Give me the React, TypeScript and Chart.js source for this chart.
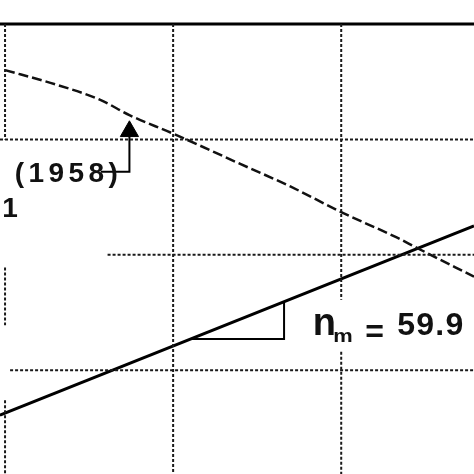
import React, { useEffect, useRef } from "react";
import { Chart, registerables } from "chart.js";

Chart.register(...registerables);

// Dashed descending curve
const curveX = [0, 0.27, 0.57, 0.74, 1.0, 1.38, 1.7, 2.0, 2.33, 2.45, 2.79];
const curveY = [2.6, 2.49, 2.34, 2.21, 2.05, 1.8, 1.59, 1.37, 1.15, 1.06, 0.81];

// Solid ascending straight line
const lineX = [-0.03, 2.79];
const lineY = [-0.39, 1.25];

// Slope triangle
const triX = [1.1, 1.66, 1.66];
const triY = [0.27, 0.27, 0.6];

// Arrow pointing to the curve
const arrowX = [0.57, 0.74, 0.74];
const arrowY = [1.72, 1.72, 2.04];
const arrowHeadX = [0.74];
const arrowHeadY = [2.07];

// Grid segments (vertical: x, from y, to y)
const vGridX = [0, 0, 0, 1, 2, 2];
const vGridFrom = [3, 0.89, -0.26, 3, 3, 0.16];
const vGridTo = [2, 0.39, -0.9, -0.9, 0.61, -0.9];
// Horizontal: y, from x, to x
const hGridY = [2, 1, 0];
const hGridFrom = [-0.03, 0.61, 0.03];
const hGridTo = [2.79, 2.79, 2.79];

// Top frame line
const frameY = 3;

// Text labels
const yearLabel = "(1958)";
const yearLabelX = 0.058;
const yearLabelY = 1.629;
const oneLabel = "1";
const oneLabelX = -0.017;
const oneLabelY = 1.327;
const slopeMain = "n";
const slopeSub = "m";
const slopeEq = "=";
const slopeValue = "59.9";
const slopeLabelX = 1.83;
const slopeLabelY = 0.303;

const X_MIN = -0.03;
const X_MAX = 2.79;
const Y_MIN = -0.9;
const Y_MAX = 3.0;

const pts = (xs: number[], ys: number[]) => xs.map((x, i) => ({ x, y: ys[i] }));

const labelPlugin = {
  id: "textLabels",
  afterDatasetsDraw(chart: any) {
    const { ctx, scales } = chart;
    const sx = scales.x;
    const sy = scales.y;
    ctx.save();
    ctx.fillStyle = "#111";
    ctx.textBaseline = "alphabetic";
    ctx.textAlign = "left";
    const fam = '"Liberation Sans", Arial, sans-serif';

    // (1958)
    ctx.font = `bold 28px ${fam}`;
    (ctx as any).letterSpacing = "4.4px";
    ctx.fillText(yearLabel, sx.getPixelForValue(yearLabelX), sy.getPixelForValue(yearLabelY));

    // 1
    (ctx as any).letterSpacing = "0px";
    ctx.font = `bold 28px ${fam}`;
    ctx.fillText(oneLabel, sx.getPixelForValue(oneLabelX), sy.getPixelForValue(oneLabelY));

    // n_m = 59.9
    const ax = sx.getPixelForValue(slopeLabelX);
    const ay = sy.getPixelForValue(slopeLabelY);
    ctx.font = `bold 38px ${fam}`;
    ctx.fillText(slopeMain, ax, ay);

    ctx.save();
    ctx.translate(ax + 20.5, ay + 7);
    ctx.scale(1.15, 1);
    ctx.font = `bold 19px ${fam}`;
    ctx.fillText(slopeSub, 0, 0);
    ctx.restore();

    ctx.font = `bold 32px ${fam}`;
    ctx.fillText(slopeEq, ax + 52.5, ay + 7);

    ctx.font = `bold 32px ${fam}`;
    (ctx as any).letterSpacing = "1.3px";
    ctx.fillText(slopeValue, ax + 84.5, ay);
    ctx.restore();
  },
};

export default function App() {
  const ref = useRef<HTMLCanvasElement | null>(null);

  useEffect(() => {
    document.body.style.margin = "0";
    document.body.style.background = "#fff";
    const canvas = ref.current;
    if (!canvas) return;

    const gridStyle = {
      borderColor: "#1a1a1a",
      borderWidth: 2,
      borderDash: [3, 2],
      pointRadius: 0,
      fill: false,
      tension: 0,
    };

    const datasets: any[] = [];

    vGridX.forEach((gx, i) => {
      datasets.push({
        ...gridStyle,
        data: [
          { x: gx, y: vGridFrom[i] },
          { x: gx, y: vGridTo[i] },
        ],
      });
    });
    hGridY.forEach((gy, i) => {
      datasets.push({
        ...gridStyle,
        data: [
          { x: hGridFrom[i], y: gy },
          { x: hGridTo[i], y: gy },
        ],
      });
    });

    // top frame
    datasets.push({
      data: [
        { x: X_MIN, y: frameY },
        { x: X_MAX, y: frameY },
      ],
      borderColor: "#000",
      borderWidth: 3,
      pointRadius: 0,
      clip: false,
    });

    // dashed curve
    datasets.push({
      data: pts(curveX, curveY),
      borderColor: "#111",
      borderWidth: 2.5,
      borderDash: [10, 4],
      pointRadius: 0,
      tension: 0.3,
      cubicInterpolationMode: "monotone",
    });

    // solid line
    datasets.push({
      data: pts(lineX, lineY),
      borderColor: "#000",
      borderWidth: 3,
      pointRadius: 0,
    });

    // triangle
    datasets.push({
      data: pts(triX, triY),
      borderColor: "#000",
      borderWidth: 2,
      pointRadius: 0,
    });

    // arrow shaft
    datasets.push({
      data: pts(arrowX, arrowY),
      borderColor: "#000",
      borderWidth: 2,
      pointRadius: 0,
    });

    // arrow head
    datasets.push({
      data: pts(arrowHeadX, arrowHeadY),
      showLine: false,
      pointStyle: "triangle",
      pointRadius: 10.5,
      pointBackgroundColor: "#000",
      pointBorderColor: "#000",
      pointBorderWidth: 1,
    });

    const chart = new Chart(canvas, {
      type: "line",
      data: { datasets },
      options: {
        animation: false,
        responsive: false,
        maintainAspectRatio: false,
        layout: { autoPadding: false, padding: { top: 24, left: 0, right: 0, bottom: 0 } },
        plugins: {
          legend: { display: false },
          tooltip: { enabled: false },
        },
        events: [],
        scales: {
          x: { type: "linear", min: X_MIN, max: X_MAX, display: false },
          y: { type: "linear", min: Y_MIN, max: Y_MAX, display: false },
        },
      },
      plugins: [labelPlugin],
    });

    return () => chart.destroy();
  }, []);

  return (
    <div style={{ position: "absolute", left: 0, top: 0, width: 474, height: 474, background: "#fff" }}>
      <canvas ref={ref} width={474} height={474} style={{ width: 474, height: 474 }} />
    </div>
  );
}
